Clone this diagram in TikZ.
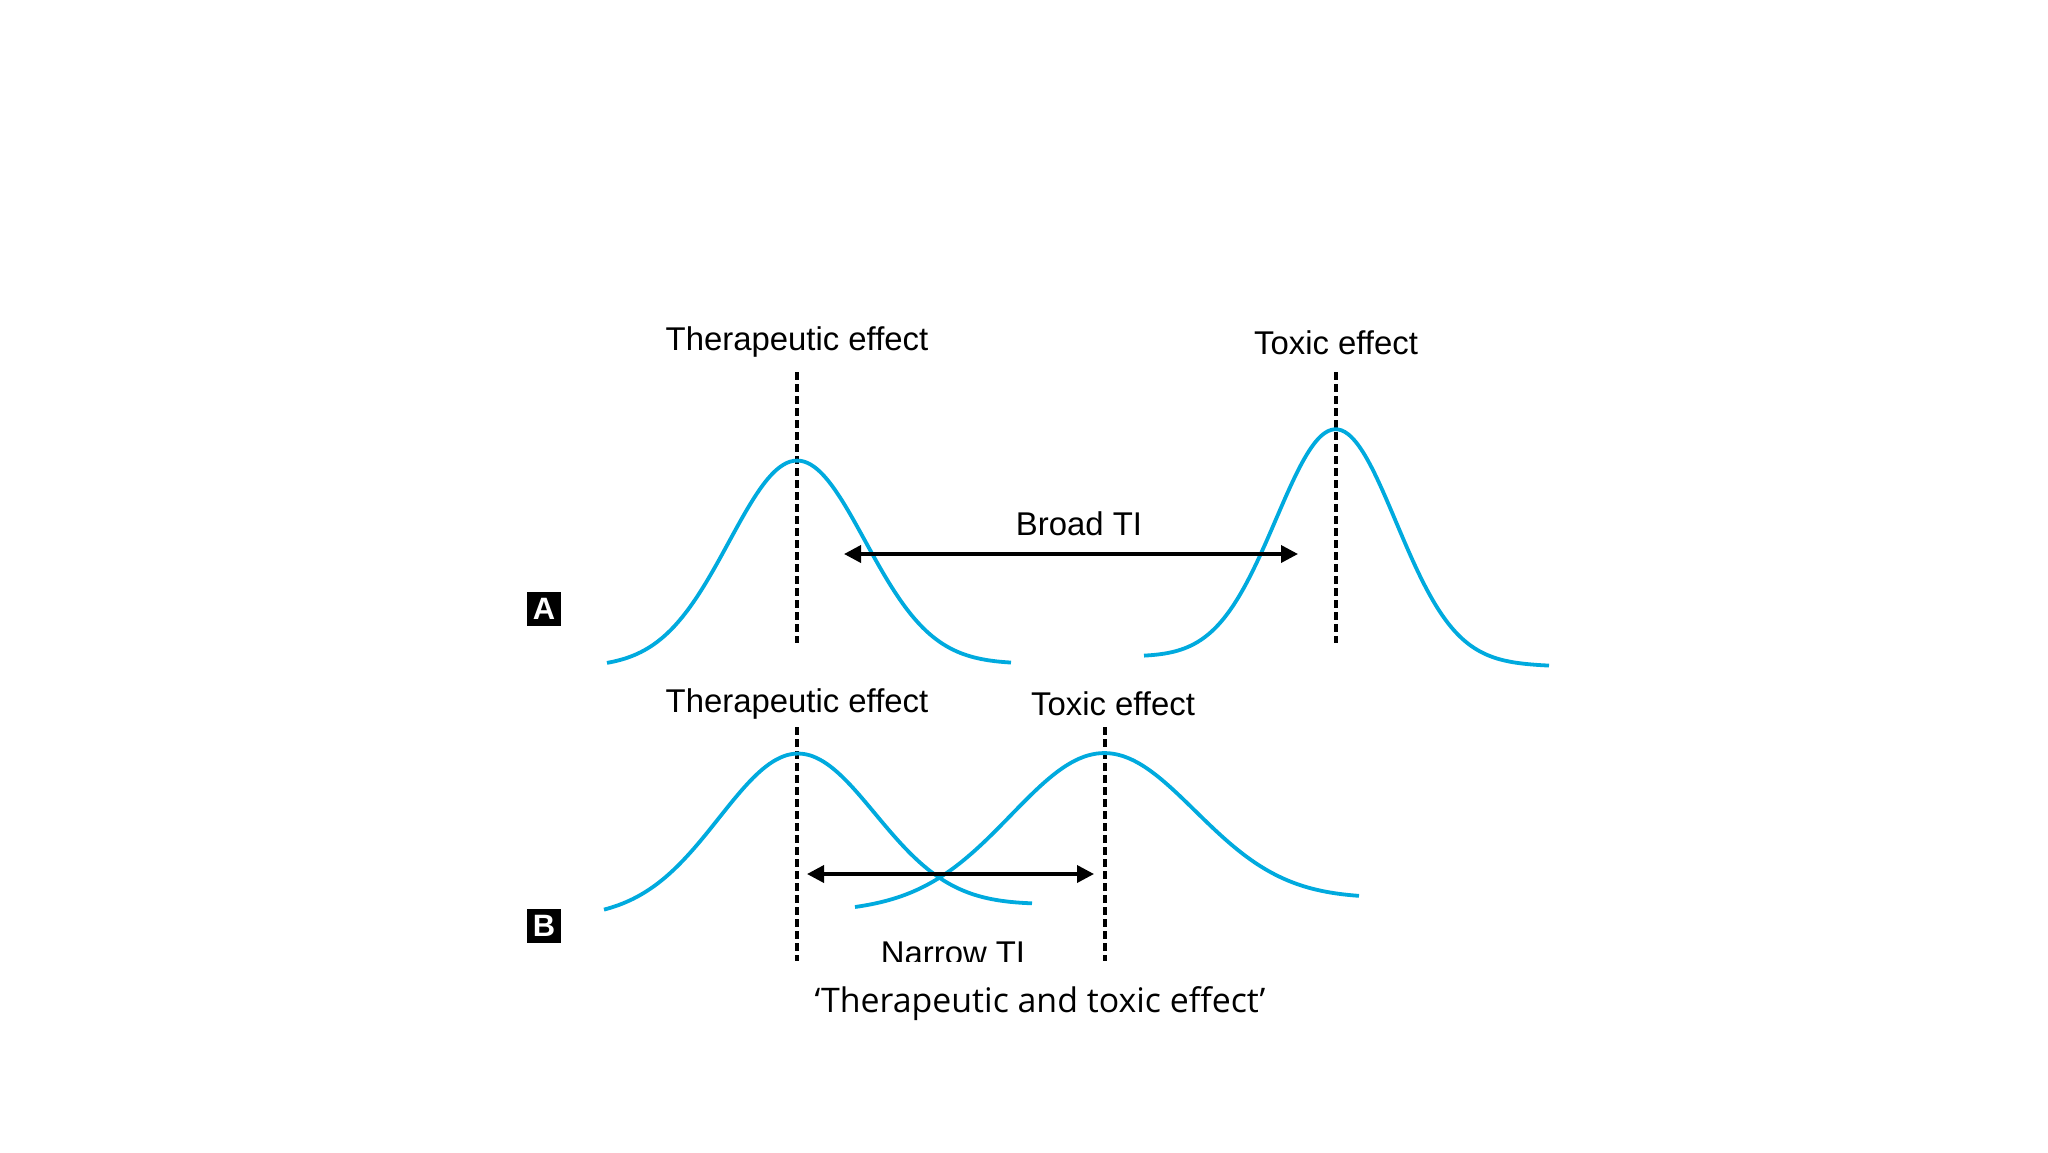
\documentclass[tikz,border=0pt]{standalone}
\usepackage{fontspec}
\setmainfont{Liberation Sans}
\newfontfamily\capfont{Open Sans}
\usetikzlibrary{arrows.meta}
\definecolor{curvecol}{RGB}{0,170,222}
\tikzset{
  bell/.style={draw=curvecol, line width=3.8bp, smooth, samples=120},
  dashline/.style={draw=black, line width=3.6bp, dash pattern=on 8bp off 4bp},
  tiarrow/.style={draw=black, line width=3.6bp, {Triangle[length=17bp,width=17bp]}-{Triangle[length=17bp,width=17bp]}},
  lbl/.style={font=\fontsize{33}{36}\selectfont, inner sep=0pt},
  boxlbl/.style={fill=black, text=white, font=\fontsize{31}{31}\selectfont\bfseries, minimum size=34bp, inner sep=0pt}
}
\begin{document}
\begin{tikzpicture}[x=1bp,y=-1bp]
\useasboundingbox (0,0) rectangle (2048,1152);
% A
\node[lbl] (thA) at (797,342) {Therapeutic effect};
\node[lbl] (toA) at (1336,343) {Toxic effect};
\coordinate (thAt) at (797,372); \coordinate (thAb) at (797,643);
\coordinate (toAt) at (1336,372); \coordinate (toAb) at (1336,643);
\draw[dashline] (thAt) -- (thAb);
\draw[dashline] (toAt) -- (toAb);
\draw[bell] plot[domain=607:1011] (\x,{667-3*(\x-607)/404-205*exp(-((\x-797)/68)^2/2)});
\draw[bell] plot[domain=1144:1549] (\x,{657+9*(\x-1144)/405-232*exp(-((\x-1336)/60)^2/2)});
\node[lbl] (broad) at (1079,524) {Broad TI};
\coordinate (bAl) at (844,554); \coordinate (bAr) at (1298,554);
\draw[tiarrow] (bAl) -- (bAr);
\node[boxlbl] (boxA) at (544,609) {A};
% B
\node[lbl] (thB) at (797,704) {Therapeutic effect};
\node[lbl] (toB) at (1113,704) {Toxic effect};
\coordinate (thBt) at (797,727); \coordinate (thBb) at (797,961);
\coordinate (toBt) at (1105,727); \coordinate (toBb) at (1105,961);
\draw[dashline] (thBt) -- (thBb);
\draw[dashline] (toBt) -- (toBb);
\draw[bell] plot[domain=604:1032] (\x,{917-12*(\x-604)/428-158*exp(-((\x-797)/78)^2/2)});
\draw[bell] plot[domain=855:1359] (\x,{911-12*(\x-855)/504-152*exp(-((\x-1103)/92)^2/2)});
\coordinate (bBl) at (807,874); \coordinate (bBr) at (1094,874);
\draw[tiarrow] (bBl) -- (bBr);
\begin{scope}
\clip (850,900) rectangle (1060,961);
\node[lbl] (narrow) at (953,953) {Narrow TI};
\end{scope}
\node[boxlbl] (boxB) at (544,926) {B};
\node[font=\capfont\fontsize{34}{38}\selectfont, inner sep=0pt] (cap) at (1040,1004) {‘Therapeutic and toxic effect’};
\end{tikzpicture}
\end{document}
